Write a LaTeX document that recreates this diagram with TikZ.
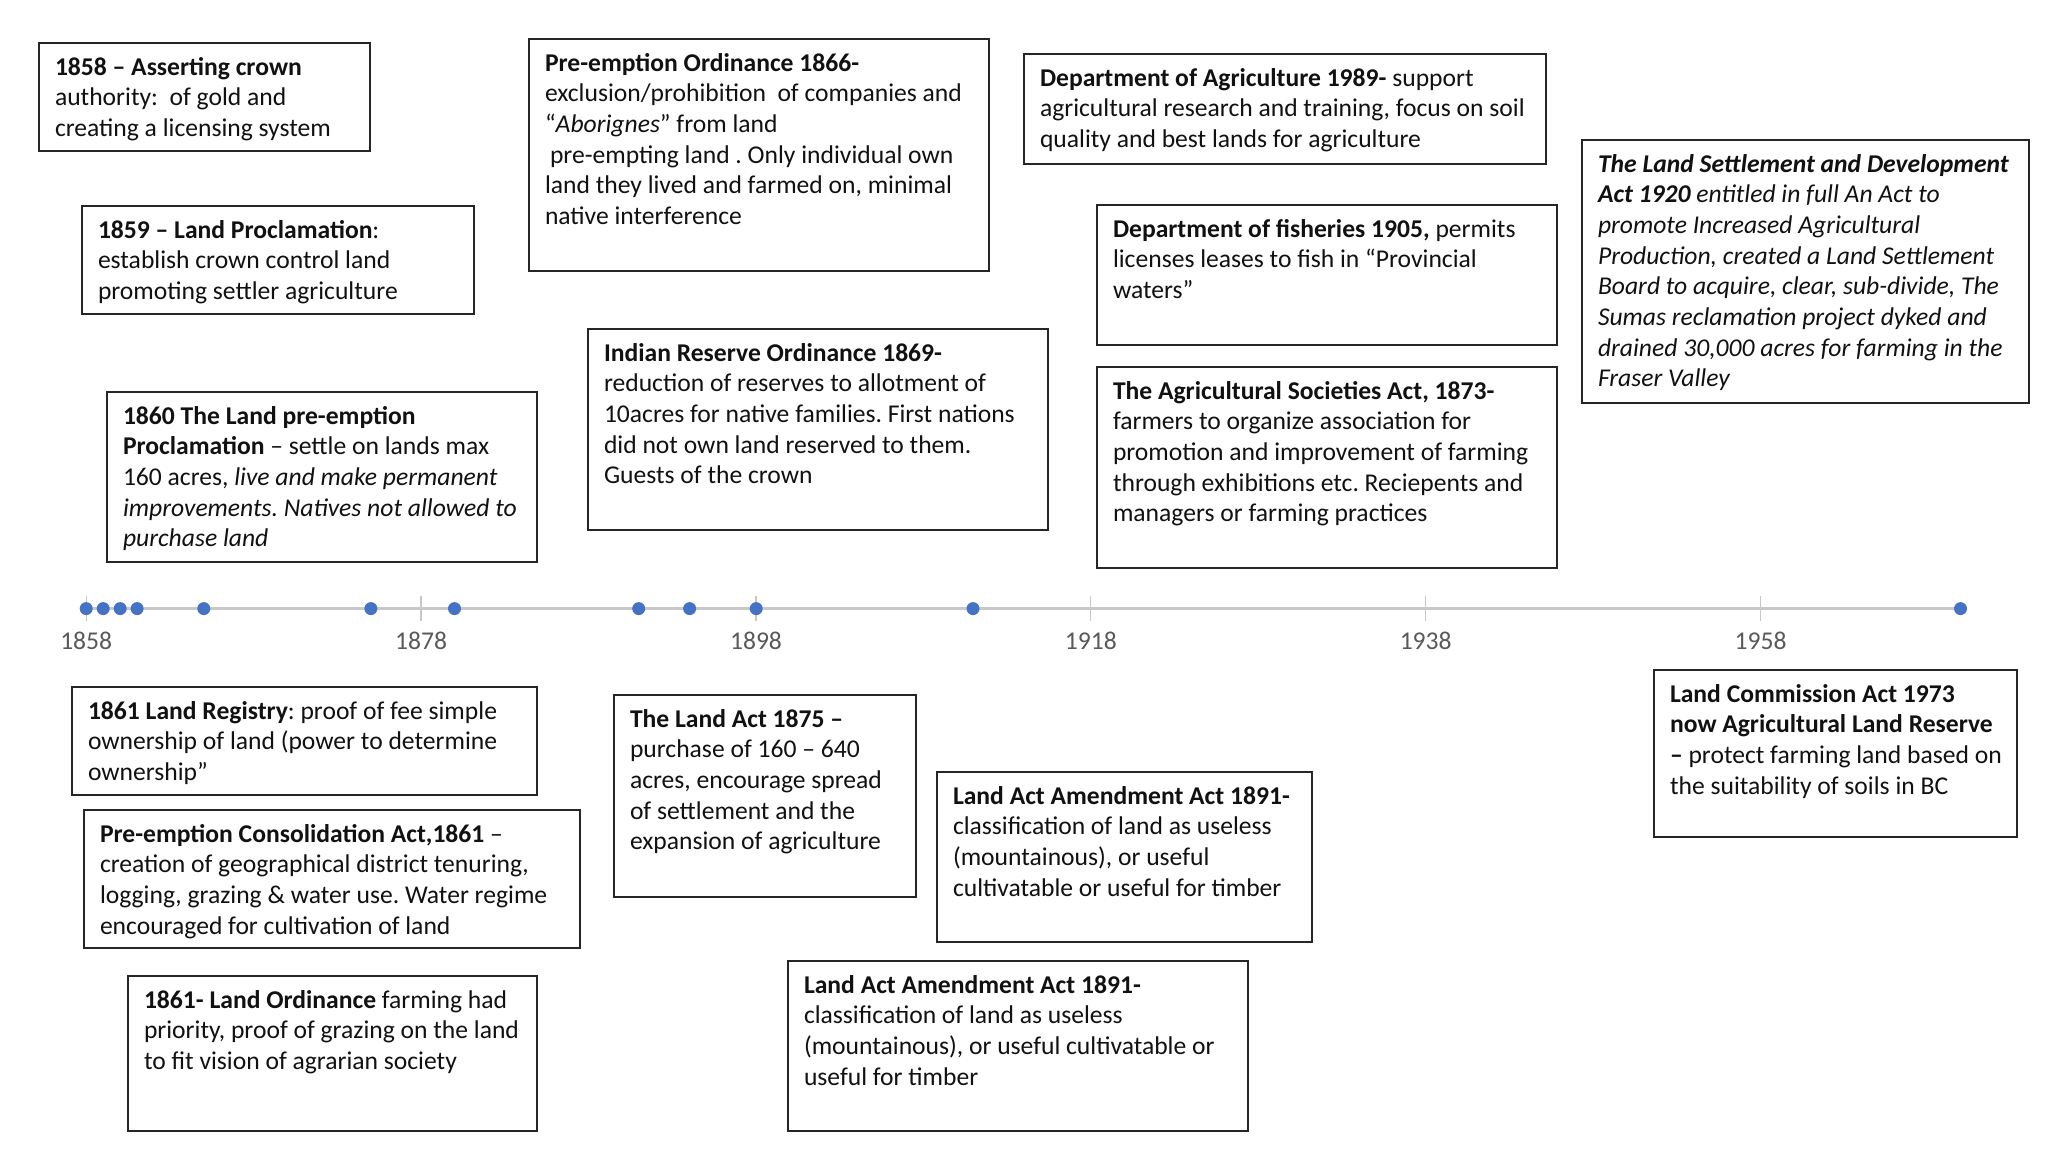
\documentclass[tikz,border=0pt]{standalone}
\usepackage{fontspec}
\setmainfont{Carlito}
\frenchspacing
\definecolor{dotblue}{HTML}{4472C4}
\definecolor{axisgray}{HTML}{C8C8C8}
\definecolor{labgray}{HTML}{595959}
\definecolor{boxline}{HTML}{262626}
\definecolor{txtcol}{HTML}{111111}
\newcommand{\evtext}[3]{\parbox[t][#2pt][t]{#1pt}{\frenchspacing\leftskip=16pt\rightskip=0pt plus 1fil\parfillskip=0pt plus 1fil\parindent=0pt\rule{0pt}{32pt}#3}}
\begin{document}
\begin{tikzpicture}[x=1pt,y=-1pt,
  evbox/.style={draw=boxline, line width=1.5pt, inner sep=0pt, outer sep=0pt, anchor=north west,
    font=\fontsize{25.6}{30.7}\selectfont, text=txtcol},
  axisline/.style={draw=axisgray, line width=3pt},
  tickmark/.style={draw=axisgray, line width=1.3pt},
  yearlab/.style={text=labgray, font=\fontsize{25.6}{28}\selectfont, inner sep=0pt},
  dot/.style={circle, fill=dotblue, inner sep=0pt, minimum size=13pt}]
\useasboundingbox (0,0) rectangle (2048,1152);
\fill[white] (0,0) rectangle (2048,1152);

% axis
\coordinate (axL) at (86.2,608.6);
\coordinate (axR) at (1960.5,608.6);
\draw[axisline] (axL) -- (axR);
\foreach \x/\yr in {86.2/1858,421.1/1878,756.0/1898,1090.8/1918,1425.7/1938,1760.6/1958}{
  \coordinate (t\yr a) at (\x,596);
  \coordinate (t\yr b) at (\x,621);
  \draw[tickmark] (t\yr a) -- (t\yr b);
  \node[yearlab] (lab\yr) at (\x,641) {\yr};
}
\foreach \x [count=\i] in {86.2,103.2,120.2,137.1,203.8,370.9,454.5,638.7,689.6,756.2,973.0,1960.5}{
  \node[dot] (d\i) at (\x,608.6) {};
}

% boxes above
\node[evbox] (b1) at (39,43) {\evtext{331}{108}{\textbf{1858 – Asserting crown}\\authority:\ \ of gold and\\creating a licensing system}};
\node[evbox] (b2) at (82,206) {\evtext{392}{108}{\textbf{1859 – Land Proclamation}:\\establish crown control land\\promoting settler agriculture}};
\node[evbox] (b3) at (107,392) {\evtext{430}{170}{\textbf{1860 The Land pre-emption}\\\textbf{Proclamation} – settle on lands max\\160 acres, \textit{live and make permanent}\\\textit{improvements. Natives not allowed to}\\\textit{purchase land}}};
\node[evbox] (b4) at (529,39) {\evtext{460}{232}{\textbf{Pre-emption Ordinance 1866-}\\exclusion/prohibition\ \ of companies and\\“\textit{Aborignes}” from land\\\hspace*{5pt}pre-empting land . Only individual own\\land they lived and farmed on, minimal\\native interference}};
\node[evbox] (b5) at (588,329) {\evtext{460}{201}{\textbf{Indian Reserve Ordinance 1869-}\\reduction of reserves to allotment of\\10acres for native families. First nations\\did not own land reserved to them.\\Guests of the crown}};
\node[evbox] (b6) at (1024,54) {\evtext{522}{110}{\textbf{Department of Agriculture 1989-} support\\agricultural research and training, focus on soil\\quality and best lands for agriculture}};
\node[evbox] (b7) at (1097,205) {\evtext{460}{140}{\textbf{Department of fisheries 1905,} permits\\licenses leases to fish in “Provincial\\waters”}};
\node[evbox] (b8) at (1097,367) {\evtext{460}{201}{\textbf{The Agricultural Societies Act, 1873-}\\farmers to organize association for\\promotion and improvement of farming\\through exhibitions etc. Reciepents and\\managers or farming practices}};
\node[evbox] (b9) at (1582,140) {\evtext{447}{263}{\itshape\textbf{The Land Settlement and Development}\\\textbf{Act 1920} entitled in full An Act to\\promote Increased Agricultural\\Production, created a Land Settlement\\Board to acquire, clear, sub-divide, The\\Sumas reclamation project dyked and\\drained 30,000 acres for farming in the\\Fraser Valley}};

% boxes below
\node[evbox] (b10) at (72,687) {\evtext{465}{108}{\textbf{1861 Land Registry}: proof of fee simple\\ownership of land (power to determine\\ownership”}};
\node[evbox] (b11) at (84,810) {\evtext{496}{138}{\textbf{Pre-emption Consolidation Act,1861} –\\creation of geographical district tenuring,\\logging, grazing \& water use. Water regime\\encouraged for cultivation of land}};
\node[evbox] (b12) at (128,976) {\evtext{409}{155}{\textbf{1861- Land Ordinance} farming had\\priority, proof of grazing on the land\\to fit vision of agrarian society}};
\node[evbox] (b13) at (614,695) {\evtext{302}{202}{\textbf{The Land Act 1875 –}\\purchase of 160 – 640\\acres, encourage spread\\of settlement and the\\expansion of agriculture}};
\node[evbox] (b14) at (937,772) {\evtext{375}{170}{\textbf{Land Act Amendment Act 1891-}\\classification of land as useless\\(mountainous), or useful\\cultivatable or useful for timber}};
\node[evbox] (b15) at (788,961) {\evtext{460}{170}{\textbf{Land Act Amendment Act 1891-}\\classification of land as useless\\(mountainous), or useful cultivatable or\\useful for timber}};
\node[evbox] (b16) at (1654,670) {\evtext{363}{167}{\textbf{Land Commission Act 1973}\\\textbf{now Agricultural Land Reserve}\\\textbf{–} protect farming land based on\\the suitability of soils in BC}};
\end{tikzpicture}
\end{document}
